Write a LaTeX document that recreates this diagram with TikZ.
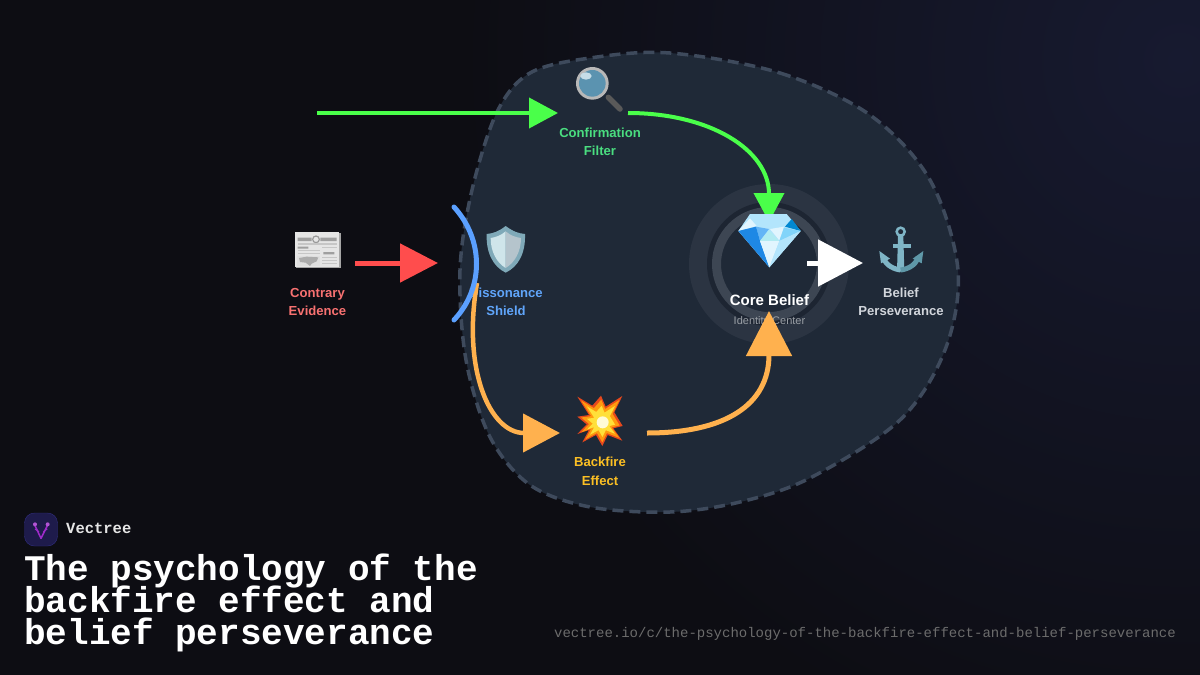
\documentclass[tikz,border=0pt]{standalone}
\usepackage{fontspec}
\setmainfont{Liberation Sans}
\setmonofont{Liberation Mono}
\usetikzlibrary{arrows.meta}

\definecolor{pagebg}{HTML}{0D0D13}
\definecolor{pagenavy}{HTML}{171A30}
\definecolor{blobfill}{HTML}{1F2937}
\definecolor{blobdash}{HTML}{3E4A5C}
\definecolor{ringout}{HTML}{2B3442}
\definecolor{ringgap}{HTML}{1D2532}
\definecolor{ringin}{HTML}{3D4653}
\definecolor{arrowgreen}{HTML}{4AFF4A}
\definecolor{arrowred}{HTML}{FF4D4D}
\definecolor{arroworange}{HTML}{FFB14E}
\definecolor{arcblue}{HTML}{5BA0FF}
\definecolor{textgreen}{HTML}{4ADE80}
\definecolor{textred}{HTML}{F87171}
\definecolor{textblue}{HTML}{60A5FA}
\definecolor{textamber}{HTML}{FBBF24}
\definecolor{textgray}{HTML}{D1D5DB}
\definecolor{anchorblue}{HTML}{7FB5C6}
\definecolor{anchordark}{HTML}{5F98A8}
\definecolor{gemtop}{HTML}{B3E5FC}
\definecolor{gempale}{HTML}{E1F5FE}
\definecolor{gemmid}{HTML}{64B5F6}
\definecolor{gemaqua}{HTML}{B2EBF2}
\definecolor{gemdeep}{HTML}{0288D1}
\definecolor{gemsky}{HTML}{81D4FA}
\definecolor{gemblue}{HTML}{1E88E5}
\definecolor{lensblue}{HTML}{5B93B0}
\definecolor{lenslight}{HTML}{C5DDE8}
\definecolor{rimgray}{HTML}{B8B8B8}
\definecolor{handlegray}{HTML}{595959}
\definecolor{shieldrim}{HTML}{7FA9B8}
\definecolor{shieldleft}{HTML}{CFE5EA}
\definecolor{shieldright}{HTML}{B5C4CC}
\definecolor{burstred}{HTML}{E8481C}
\definecolor{burstorange}{HTML}{FF9A0E}
\definecolor{burstyellow}{HTML}{FFE03A}
\definecolor{burstwhite}{HTML}{FFFBD6}
\definecolor{logofill}{HTML}{1E1B4B}
\definecolor{logoline}{HTML}{312E81}
\definecolor{logomark}{HTML}{9D2BC9}

\tikzset{
  steplabel/.style={inner sep=0pt, align=center, font=\fontsize{13.1}{18.4}\selectfont\bfseries},
  flowline/.style={line width=#1, line cap=butt},
  titleline/.style={anchor=base west, inner sep=0pt, text=white, font=\ttfamily\bfseries\fontsize{36}{36}\selectfont},
}

\newcommand{\burstpath}{(37,35) -- (82,62) -- (108,32) -- (122,65) -- (172,33) -- (148,82)
  -- (173,123) -- (145,130) -- (172,167) -- (128,150) -- (112,183) -- (93,150)
  -- (52,172) -- (72,135) -- (37,147) -- (65,118) -- (37,95) -- (72,90) -- cycle}
\newcommand{\burstlayer}[2]{
  \begin{scope}[shift={(113,112)},scale=#1,shift={(-113,-112)}]
    \fill[#2] \burstpath;
  \end{scope}}

\begin{document}
\begin{tikzpicture}[x=1pt,y=-1pt]

  \useasboundingbox (0,0) rectangle (1200,675);

  % page
  \fill[pagebg] (0,0) rectangle (1200,675);
  \begin{scope}
    \clip (0,0) rectangle (1200,675);
    \shade[inner color=pagenavy, outer color=pagebg] (1180,60) circle (720);
  \end{scope}

  % belief region
  \draw[blobdash, fill=blobfill, line width=3.5pt, dash pattern=on 11pt off 6pt]
    plot[smooth cycle, tension=0.55] coordinates {
      (670,53) (780,73) (870,115) (930,180) (958,270) (945,350) (900,420)
      (810,478) (740,502) (670,512) (590,507) (530,485) (490,437) (466,360)
      (460,270) (472,190) (497,112) (530,73) (590,58)};

  % rings
  \fill[ringout] (769,264) circle (80);
  \fill[ringgap] (769,264) circle (62);
  \draw[ringin, line width=9pt, fill=blobfill] (769,264) circle (52.5);

  \coordinate (evidenceOut) at (355,263);
  \coordinate (shieldIn) at (438,263);
  \coordinate (filterIn) at (558,113);
  \coordinate (filterStart) at (317,113);
  \coordinate (filterOut) at (628,113);
  \coordinate (coreTop) at (769,222);
  \coordinate (coreOut) at (807,263);
  \coordinate (anchorIn) at (863,263);
  \coordinate (arcTop) at (454,207);
  \coordinate (arcBottom) at (454,320);
  \coordinate (reboundStart) at (477,283);
  \coordinate (burstIn) at (560,433);
  \coordinate (burstOut) at (647,433);
  \coordinate (coreBottom) at (769,311);

  % labels
  \node[steplabel, text=textred] (evidence) at (317.5,302) {Contrary\\Evidence};
  \node[steplabel, text=textgreen] (filter) at (600,142) {Confirmation\\Filter};
  \node[steplabel, text=textblue] (shield) at (506,302) {Dissonance\\Shield};
  \node[steplabel, text=textamber] (burst) at (600,471.5) {Backfire\\Effect};
  \node[steplabel, text=textgray] (anchor) at (901,302) {Belief\\Perseverance};
  \node[inner sep=0pt, text=white, font=\fontsize{15}{18}\selectfont\bfseries] (core) at (769.5,300.5) {Core Belief};
  \node[inner sep=0pt, text=white!55!blobfill, font=\fontsize{11}{13}\selectfont] (identity) at (769.5,321.5) {Identity Center};

  % newspaper
  \begin{scope}[shift={(285,222)},scale=1/3]
    \fill[gray!70] (33,32) rectangle (167,137);
    \fill[white!90!black] (30,30) rectangle (163,134);
    \fill[gray!75] (38,47) rectangle (80,57) (106,47) rectangle (155,57);
    \draw[gray!80, line width=1.2pt] (93,52) circle (10);
    \fill[gray!45] (38,64) rectangle (155,68);
    \fill[gray!75] (38,74) rectangle (70,80) (115,90) rectangle (148,97);
    \foreach \y in {84,93} {
      \fill[gray!45] (38,\y) rectangle (105,\y+4);
    }
    \foreach \y in {74,104,113,122} {
      \fill[gray!45] (112,\y) rectangle (155,\y+4);
    }
    \fill[gray!25] (36,102) rectangle (106,132);
    \fill[gray!65] (42,108) -- (65,104) -- (100,106) -- (95,118) -- (80,125) -- (75,132) -- (62,122) -- (45,120) -- cycle;
  \end{scope}

  % magnifier
  \begin{scope}[shift={(260,40)},scale=1/3]
    \draw[line width=5.5pt, line cap=round, handlegray] (1045,172) -- (1080,207);
    \fill[rimgray] (997,130) circle (49);
    \fill[lensblue] (997,130) circle (40);
    \fill[lenslight] (978,108) ellipse (17 and 11);
  \end{scope}

  % shield
  \begin{scope}[shift={(260,40)},scale=1/3]
    \fill[shieldrim] (737,558) .. controls (715,575) and (700,580) .. (680,582)
      .. controls (678,640) and (700,680) .. (737,698)
      .. controls (775,680) and (797,640) .. (795,582)
      .. controls (775,580) and (760,575) .. (737,558) -- cycle;
    \fill[shieldleft] (737,574) .. controls (722,587) and (706,592) .. (692,594)
      .. controls (692,635) and (710,668) .. (737,684) -- cycle;
    \fill[shieldright] (737,574) .. controls (752,587) and (768,592) .. (783,594)
      .. controls (783,635) and (764,668) .. (737,684) -- cycle;
  \end{scope}

  % burst
  \begin{scope}[shift={(565,385)},scale=1/3]
    \burstlayer{1}{burstred}
    \burstlayer{0.85}{burstorange}
    \burstlayer{0.62}{burstyellow}
    \fill[burstwhite] (113,112) circle (18);
  \end{scope}

  % anchor
  \begin{scope}[shift={(870,220)},scale=1/3]
    \draw[anchorblue, line width=2.5pt] (92,35) circle (12);
    \fill[anchorblue] (84,47) -- (100,47) -- (103,155) -- (81,155) -- cycle;
    \fill[anchorblue] (68,72) rectangle (122,83);
    \draw[anchorblue, line width=5pt] (40,112) .. controls (47,138) and (75,148) .. (92,150);
    \draw[anchordark, line width=5pt] (144,112) .. controls (137,138) and (109,148) .. (92,150);
    \fill[anchorblue] (28,93) -- (60,116) -- (33,130) -- cycle;
    \fill[anchordark] (160,93) -- (128,116) -- (155,130) -- cycle;
  \end{scope}

  % arrows
  \draw[flowline=4pt, arrowgreen, -{Triangle[length=29pt,width=30pt]}] (filterStart) -- (filterIn);
  \draw[flowline=4pt, arrowgreen, -{Triangle[length=29pt,width=30pt]}] (filterOut) .. controls (710,113) and (769,150) .. (coreTop);
  \draw[flowline=5pt, arrowred, -{Triangle[length=38pt,width=38pt]}] (evidenceOut) -- (shieldIn);
  \draw[flowline=4.5pt, arroworange, -{Triangle[length=37pt,width=38pt]}] (reboundStart) .. controls (462,370) and (490,433) .. (burstIn);
  \draw[flowline=5pt, arroworange, -{Triangle[length=45pt,width=45pt]}] (burstOut) .. controls (725,433) and (769,405) .. (coreBottom);
  \draw[line width=5pt, line cap=round, arcblue] (arcTop) .. controls (484,240) and (484,288) .. (arcBottom);

  % gem
  \begin{scope}[shift={(730,205)},scale=1/3]
    \fill[gemtop] (60,27) -- (170,27) -- (212,78) -- (118,187) -- (25,78) -- cycle;
    \fill[gempale] (25,78) -- (60,40) -- (80,63) -- cycle;
    \fill[gemmid] (78,65) -- (117,72) -- (90,108) -- cycle;
    \fill[gemaqua] (90,108) -- (117,75) -- (148,108) -- cycle;
    \fill[gempale] (120,72) -- (162,65) -- (148,106) -- cycle;
    \fill[gemdeep] (165,65) -- (185,42) -- (212,78) -- cycle;
    \fill[gemsky] (162,68) -- (212,78) -- (148,108) -- cycle;
    \fill[gemblue] (25,78) -- (118,187) -- (90,108) -- (78,65) -- cycle;
    \fill[gempale] (90,108) -- (148,108) -- (118,187) -- cycle;
    \fill[gemtop] (148,108) -- (212,78) -- (118,187) -- cycle;
  \end{scope}

  \draw[flowline=5pt, white, -{Triangle[length=45pt,width=46pt]}] (coreOut) -- (anchorIn);

  % brand
  \draw[logoline, fill=logofill, rounded corners=10pt] (24.5,513) rectangle (57.5,546);
  \begin{scope}[shift={(15,505)},scale=1/3]
    \draw[logomark, line width=1.5pt, line join=round] (60,62) -- (78,100) -- (97,62);
    \draw[logomark, line width=1pt] (60,72) -- (72,80) (97,72) -- (85,80);
    \fill[logomark!80!white] (60,58) circle (6) (98,58) circle (6);
  \end{scope}
  \node[anchor=west, inner sep=0pt, text=white!90!black, font=\ttfamily\bfseries\fontsize{15.5}{18}\selectfont] (brand) at (66,528.5) {Vectree};
  \node[titleline] (titleA) at (24,580) {The psychology of the};
  \node[titleline] (titleB) at (24,612.4) {backfire effect and};
  \node[titleline] (titleC) at (24,644.8) {belief perseverance};
  \node[anchor=east, inner sep=0pt, text=gray!85!black, font=\ttfamily\fontsize{14}{16}\selectfont] (url) at (1176,633.5) {vectree.io/c/the-psychology-of-the-backfire-effect-and-belief-perseverance};

\end{tikzpicture}
\end{document}
